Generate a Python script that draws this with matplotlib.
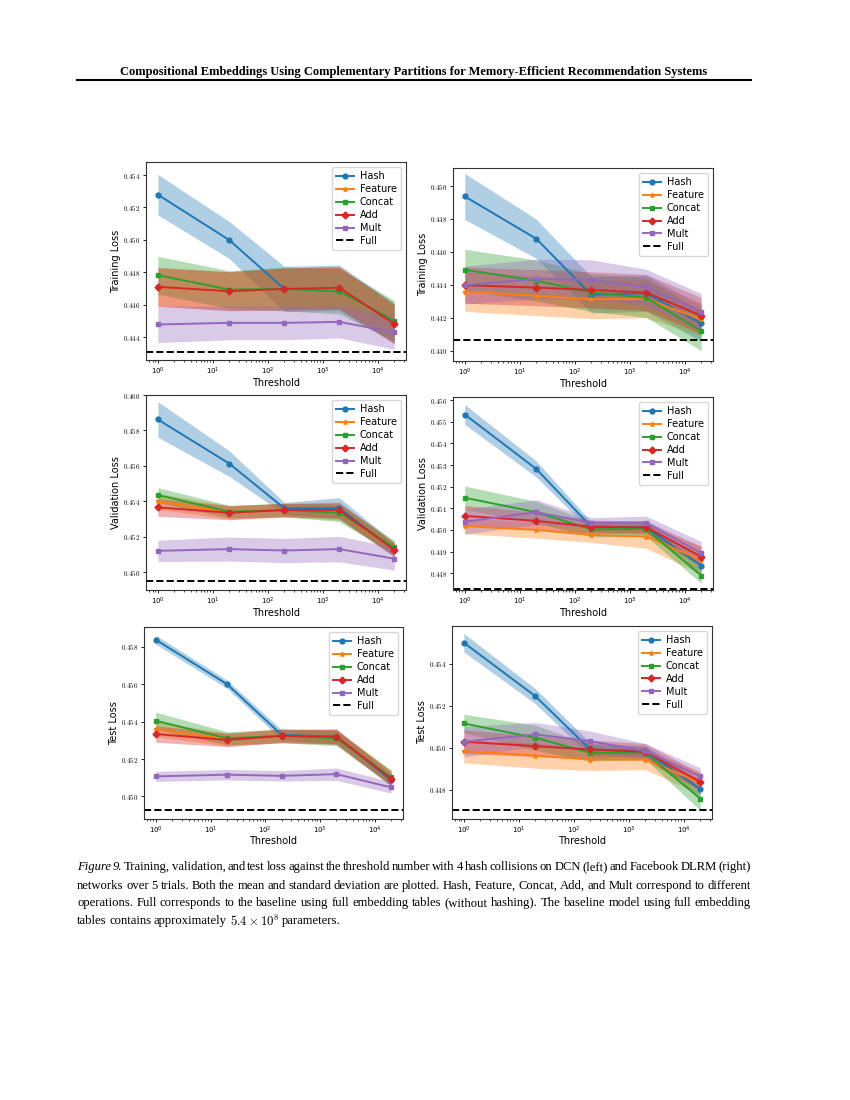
import numpy as np
import matplotlib
matplotlib.use("Agg")
import matplotlib.pyplot as plt
from matplotlib.ticker import MultipleLocator, FuncFormatter

plt.rcParams['mathtext.fontset'] = 'cm'

thresholds = [1, 20, 200, 2000, 20000]
methods = ['Hash', 'Feature', 'Concat', 'Add', 'Mult']
colors = ['tab:blue', 'tab:orange', 'tab:green', 'tab:red', 'tab:purple']
markers = ['o', '*', 's', 'D', 's']

# DCN training
dcn_train_mean = {
    'Hash':    [0.45279, 0.44999, 0.44698, 0.44705, 0.44487],
    'Feature': [0.44711, 0.44684, 0.44698, 0.44705, 0.44483],
    'Concat':  [0.44783, 0.44694, 0.44698, 0.44684, 0.44502],
    'Add':     [0.44711, 0.44684, 0.44698, 0.44705, 0.44483],
    'Mult':    [0.44479, 0.44489, 0.44489, 0.44495, 0.44431],
}
dcn_train_std = {
    'Hash':    [0.00125, 0.00114, 0.00140, 0.00140, 0.00125],
    'Feature': [0.00119, 0.00120, 0.00130, 0.00130, 0.00120],
    'Concat':  [0.00116, 0.00116, 0.00135, 0.00140, 0.00125],
    'Add':     [0.00119, 0.00120, 0.00130, 0.00130, 0.00120],
    'Mult':    [0.00112, 0.00104, 0.00104, 0.00099, 0.00104],
}
dcn_train_full = 0.44307

# DLRM training
dlrm_train_mean = {
    'Hash':    [0.44937, 0.44680, 0.44339, 0.44349, 0.44166],
    'Feature': [0.44359, 0.44333, 0.44312, 0.44314, 0.44191],
    'Concat':  [0.44491, 0.44426, 0.44353, 0.44322, 0.44120],
    'Add':     [0.44398, 0.44383, 0.44369, 0.44353, 0.44213],
    'Mult':    [0.44398, 0.44436, 0.44430, 0.44385, 0.44237],
}
dlrm_train_std = {
    'Hash':    [0.00140, 0.00119, 0.00110, 0.00110, 0.00110],
    'Feature': [0.00120, 0.00120, 0.00117, 0.00115, 0.00100],
    'Concat':  [0.00125, 0.00125, 0.00115, 0.00120, 0.00120],
    'Add':     [0.00110, 0.00110, 0.00110, 0.00110, 0.00110],
    'Mult':    [0.00115, 0.00120, 0.00122, 0.00110, 0.00110],
}
dlrm_train_full = 0.44065

# DCN validation
dcn_val_mean = {
    'Hash':    [0.45862, 0.45613, 0.45361, 0.45361, 0.45127],
    'Feature': [0.45400, 0.45338, 0.45351, 0.45340, 0.45130],
    'Concat':  [0.45436, 0.45342, 0.45351, 0.45336, 0.45142],
    'Add':     [0.45366, 0.45336, 0.45351, 0.45351, 0.45127],
    'Mult':    [0.45121, 0.45131, 0.45123, 0.45131, 0.45077],
}
dcn_val_std = {
    'Hash':    [0.00100, 0.00072, 0.00033, 0.00060, 0.00040],
    'Feature': [0.00045, 0.00038, 0.00038, 0.00045, 0.00038],
    'Concat':  [0.00042, 0.00035, 0.00038, 0.00050, 0.00038],
    'Add':     [0.00050, 0.00040, 0.00038, 0.00045, 0.00038],
    'Mult':    [0.00060, 0.00068, 0.00068, 0.00072, 0.00065],
}
dcn_val_full = 0.44953

# DLRM validation
dlrm_val_mean = {
    'Hash':    [0.45534, 0.45282, 0.45015, 0.45012, 0.44835],
    'Feature': [0.45018, 0.45000, 0.44977, 0.44969, 0.44862],
    'Concat':  [0.45149, 0.45082, 0.45003, 0.45005, 0.44789],
    'Add':     [0.45065, 0.45042, 0.45015, 0.45012, 0.44877],
    'Mult':    [0.45038, 0.45082, 0.45034, 0.45034, 0.44892],
}
dlrm_val_std = {
    'Hash':    [0.00046, 0.00037, 0.00023, 0.00023, 0.00040],
    'Feature': [0.00035, 0.00038, 0.00035, 0.00054, 0.00065],
    'Concat':  [0.00054, 0.00050, 0.00035, 0.00035, 0.00035],
    'Add':     [0.00048, 0.00040, 0.00030, 0.00030, 0.00045],
    'Mult':    [0.00058, 0.00058, 0.00023, 0.00030, 0.00054],
}
dlrm_val_full = 0.44728

# DCN test
dcn_test_mean = {
    'Hash':    [0.45839, 0.45601, 0.45329, 0.45320, 0.45085],
    'Feature': [0.45360, 0.45305, 0.45324, 0.45318, 0.45097],
    'Concat':  [0.45405, 0.45311, 0.45324, 0.45311, 0.45101],
    'Add':     [0.45334, 0.45302, 0.45324, 0.45320, 0.45094],
    'Mult':    [0.45107, 0.45116, 0.45110, 0.45119, 0.45048],
}
dcn_test_std = {
    'Hash':    [0.00024, 0.00022, 0.00027, 0.00040, 0.00030],
    'Feature': [0.00040, 0.00035, 0.00036, 0.00040, 0.00040],
    'Concat':  [0.00046, 0.00035, 0.00037, 0.00040, 0.00040],
    'Add':     [0.00044, 0.00036, 0.00036, 0.00040, 0.00038],
    'Mult':    [0.00027, 0.00028, 0.00028, 0.00033, 0.00031],
}
dcn_test_full = 0.44929

# DLRM test
dlrm_test_mean = {
    'Hash':    [0.45500, 0.45245, 0.44991, 0.44983, 0.44803],
    'Feature': [0.44983, 0.44962, 0.44943, 0.44943, 0.44832],
    'Concat':  [0.45115, 0.45047, 0.44975, 0.44975, 0.44757],
    'Add':     [0.45028, 0.45007, 0.44991, 0.44980, 0.44837],
    'Mult':    [0.45028, 0.45063, 0.45031, 0.44983, 0.44864],
}
dlrm_test_std = {
    'Hash':    [0.00044, 0.00036, 0.00032, 0.00025, 0.00040],
    'Feature': [0.00056, 0.00060, 0.00052, 0.00048, 0.00056],
    'Concat':  [0.00044, 0.00060, 0.00040, 0.00030, 0.00056],
    'Add':     [0.00056, 0.00050, 0.00045, 0.00040, 0.00040],
    'Mult':    [0.00072, 0.00057, 0.00048, 0.00036, 0.00040],
}
dlrm_test_full = 0.44705

panels = [
    (dcn_train_mean, dcn_train_std, dcn_train_full, 'Training Loss', (0.4426, 0.4548), 0.002,
     [0.1718, 0.6727, 0.3059, 0.1800]),
    (dlrm_train_mean, dlrm_train_std, dlrm_train_full, 'Training Loss', (0.43937, 0.4511), 0.002,
     [0.5329, 0.6718, 0.3059, 0.1755]),
    (dcn_val_mean, dcn_val_std, dcn_val_full, 'Validation Loss', (0.4490, 0.4600), 0.002,
     [0.1718, 0.4636, 0.3059, 0.1773]),
    (dlrm_val_mean, dlrm_val_std, dlrm_val_full, 'Validation Loss', (0.44722, 0.45615), 0.001,
     [0.5329, 0.4636, 0.3059, 0.1755]),
    (dcn_test_mean, dcn_test_std, dcn_test_full, 'Test Loss', (0.44879, 0.45907), 0.002,
     [0.1694, 0.2555, 0.3047, 0.1745]),
    (dlrm_test_mean, dlrm_test_std, dlrm_test_full, 'Test Loss', (0.4466, 0.4558), 0.002,
     [0.5318, 0.2555, 0.3059, 0.1755]),
]

fig = plt.figure(figsize=(8.5, 11), dpi=100)

for mean, std, full, ylabel, ylim, step, pos in panels:
    ax = fig.add_axes(pos)
    for m, c, mk in zip(methods, colors, markers):
        mu = np.array(mean[m])
        sd = np.array(std[m])
        ax.fill_between(thresholds, mu - sd, mu + sd, color=c, alpha=0.35, linewidth=0)
        ax.plot(thresholds, mu, color=c, marker=mk, markersize=3.5, linewidth=1.4, label=m)
    ax.axhline(full, color='black', linestyle='--', linewidth=1.4, label='Full')
    ax.set_xscale('log')
    ax.set_ylim(*ylim)
    ax.yaxis.set_major_locator(MultipleLocator(step))
    ax.yaxis.set_major_formatter(FuncFormatter(lambda v, p: r'$%.3f$' % v))
    ax.tick_params(axis='both', which='major', labelsize=5, length=2.5, width=0.6, pad=1.5)
    ax.tick_params(axis='both', which='minor', length=1.3, width=0.5)
    ax.set_xlabel('Threshold', fontsize=7, labelpad=0.5)
    ax.set_ylabel(ylabel, fontsize=7, labelpad=1.5)
    for s in ax.spines.values():
        s.set_linewidth(0.8)
        s.set_color('#333333')
    ax.legend(loc='upper right', fontsize=7, handlelength=1.8, handletextpad=0.6,
              borderpad=0.45, labelspacing=0.3, framealpha=0.8)

# page header
fig.text(0.486, 1 - 72 / 1100, 'Compositional Embeddings Using Complementary Partitions for '
         'Memory-Efficient Recommendation Systems', ha='center', va='center',
         fontsize=9, fontweight='bold', family='Liberation Serif')
fig.add_artist(plt.Line2D([77 / 850, 751 / 850], [1 - 80 / 1100, 1 - 80 / 1100],
                          color='black', linewidth=1.5))

# caption, justified line by line
caption_lines = [
    [('Figure 9.', 'italic'), ('Training, validation, and test loss against the threshold number with 4 hash '
                               'collisions on DCN (left) and Facebook DLRM (right)', 'normal')],
    [('networks over 5 trials. Both the mean and standard deviation are plotted. Hash, Feature, Concat, '
      'Add, and Mult correspond to different', 'normal')],
    [('operations. Full corresponds to the baseline using full embedding tables (without hashing). '
      'The baseline model using full embedding', 'normal')],
    [('tables contains approximately $5.4 \\times 10^8$ parameters.', 'normal')],
]
line_y = [867, 886, 903, 921]
x0, x1 = 77, 751
renderer = fig.canvas.get_renderer()
for i, (segs, yy) in enumerate(zip(caption_lines, line_y)):
    words = []
    for txt, style in segs:
        parts = txt.split(' ')
        merged = []
        inmath = False
        for p in parts:
            if inmath:
                merged[-1] += ' ' + p
            else:
                merged.append(p)
            if p.count('$') % 2 == 1:
                inmath = not inmath
        words += [(w, style) for w in merged]
    arts = []
    widths = []
    for w, style in words:
        t = fig.text(0, 1 - yy / 1100, w, fontsize=9.1, family='Liberation Serif',
                     style=style, va='center', ha='left')
        bb = t.get_window_extent(renderer)
        arts.append(t)
        widths.append(bb.width)
    total = sum(widths)
    if i < len(caption_lines) - 1:
        gap = (x1 - x0 - total) / (len(words) - 1)
    else:
        gap = 2.6
    x = x0
    for t, wd in zip(arts, widths):
        t.set_x(x / 850)
        x += wd + gap

fig.savefig('out.png', dpi=100)
